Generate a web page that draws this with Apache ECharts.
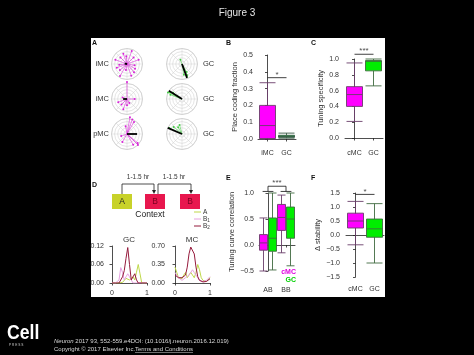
<!DOCTYPE html>
<html><head><meta charset="utf-8">
<script src="https://cdn.jsdelivr.net/npm/echarts@6/dist/echarts.min.js"></script>
<style>html,body{margin:0;padding:0;background:#000;}#c{width:474px;height:355px;}</style>
</head><body><div id="c"></div>
<script>
// ---------- DATA ----------
const polarLeftLabels = ['iMC', 'iMC', 'pMC'];
const polarRightLabels = ['GC', 'GC', 'GC'];
// each vector: angle (deg, 0 = right, counter-clockwise), length (fraction of outer ring)
const polar1Angles = [20, 45, 70, 95, 110, 135, 160, 185, 200, 220, 240, 260, 290, 310, 330, 350];
const polar1Lengths = [0.8, 0.6, 0.9, 0.5, 0.7, 0.6, 0.8, 0.5, 0.7, 0.6, 0.9, 0.4, 0.8, 0.7, 0.6, 0.5];
const polar1Mean = [0.15, 170];
const polar2Angles = [90, 160, 200, 225, 250, 270, 300, 0];
const polar2Lengths = [1.1, 0.3, 0.6, 0.5, 0.7, 0.4, 0.3, 0.5];
const polar2Mean = [0.25, 180];
const polar3Angles = [60, 70, 80, 100, 200, 240, 300, 315, 320];
const polar3Lengths = [0.9, 1.0, 1.1, 0.5, 0.4, 0.6, 0.8, 1.0, 0.9];
const polar3Mean = [0.65, 0];
const polar4Angles = [280, 290, 300, 295, 110];
const polar4Lengths = [0.7, 0.9, 0.6, 0.8, 0.3];
const polar4Mean = [0.95, 290];
const polar5Angles = [145, 150, 155, 160];
const polar5Lengths = [0.7, 0.9, 1.0, 0.8];
const polar5Mean = [1.0, 148];
const polar6Angles = [105, 120, 140, 155];
const polar6Lengths = [0.6, 0.5, 0.7, 0.9];
const polar6Mean = [1.0, 157];

const catsB = ['iMC', 'GC'];
const boxB_iMC = [0.0, 0.003, 0.08, 0.2, 0.335];
const boxB_GC = [0.005, 0.01, 0.015, 0.022, 0.035];
const sigB = ['*', 0.365];

const catsC = ['cMC', 'GC'];
const boxC_cMC = [0.21, 0.40, 0.55, 0.65, 0.95];
const boxC_GC = [0.66, 0.85, 0.97, 0.98, 1.0];
const sigC = ['***', 1.06];

const catsE = ['AB', 'BB'];
const groupsE = ['cMC', 'GC'];
const boxE_cMC = [[-0.5, -0.1, 0.04, 0.2, 0.52], [-0.15, 0.28, 0.53, 0.78, 0.96]];
const boxE_GC = [[-0.48, -0.12, 0.13, 0.52, 1.0], [-0.4, 0.13, 0.5, 0.73, 1.0]];
const sigE = ['***', 1.13, 1.03];

const catsF = ['cMC', 'GC'];
const boxF_cMC = [-0.35, 0.25, 0.5, 0.78, 1.2];
const boxF_GC = [-1.0, -0.08, 0.22, 0.57, 1.12];
const sigF = ['*', 1.45];

const traceX = [0, 0.05, 0.1, 0.15, 0.2, 0.25, 0.3, 0.35, 0.4, 0.45, 0.5, 0.55, 0.6, 0.65, 0.7, 0.75, 0.8, 0.85, 0.9, 0.95, 1.0];
const gcA  = [0, 0, 0, 0, 0, 0, 0.002, 0.005, 0.015, 0.02, 0.01, 0.015, 0.02, 0.01, 0.035, 0.06, 0.03, 0, 0, 0, 0];
const gcB1 = [0, 0, 0, 0, 0.01, 0.05, 0.035, 0.01, 0.02, 0.03, 0.02, 0.01, 0, 0, 0, 0, 0, 0, 0, 0, 0];
const gcB2 = [0, 0, 0, 0, 0, 0.005, 0.02, 0.04, 0.08, 0.115, 0.06, 0.01, 0.005, 0.03, 0.01, 0, 0, 0, 0, 0, 0];
const mcA  = [0.3, 0.2, 0.1, 0.12, 0.08, 0.15, 0.2, 0.1, 0.15, 0.2, 0.15, 0.1, 0.2, 0.35, 0.25, 0.1, 0.05, 0.05, 0.03, 0.05, 0.1];
const mcB1 = [0.2, 0.15, 0.1, 0.1, 0.05, 0.08, 0.1, 0.12, 0.15, 0.2, 0.25, 0.2, 0.15, 0.1, 0.05, 0.05, 0.03, 0.05, 0.05, 0.08, 0.12];
const mcB2 = [0.15, 0.12, 0.1, 0.08, 0.1, 0.08, 0.15, 0.3, 0.55, 0.68, 0.7, 0.55, 0.3, 0.12, 0.05, 0.03, 0.02, 0.02, 0.03, 0.05, 0.08];
const gcTicks = [0, 0.06, 0.12];
const mcTicks = [0, 0.35, 0.70];

// ---------- STYLE ----------
const FONT = 'Liberation Sans, Arial, sans-serif';
const MAG = '#ff00ff', GRN = '#00ee00';
const colA = '#bfd84a', colB1 = '#e6a2e0', colB2 = '#951a3c';
const TXT = '#333';
const MAGB = '#6a3d6a', GRNB = '#3f6a3f';

const chart = echarts.init(document.getElementById('c'), null, {width: 474, height: 355});

// ---------- POLAR ----------
const polarCenters = [[127, 64], [127, 99], [127, 134], [182, 64], [182, 99], [182, 134]];
const polarSets = [
  [polar1Angles, polar1Lengths, polar1Mean, '#d822d8'],
  [polar2Angles, polar2Lengths, polar2Mean, '#d822d8'],
  [polar3Angles, polar3Lengths, polar3Mean, '#d822d8'],
  [polar4Angles, polar4Lengths, polar4Mean, '#44cc44'],
  [polar5Angles, polar5Lengths, polar5Mean, '#44cc44'],
  [polar6Angles, polar6Lengths, polar6Mean, '#44cc44']
];
const polar = [], angleAxis = [], radiusAxis = [], series = [];
polarSets.forEach((s, i) => {
  polar.push({center: polarCenters[i], radius: 15.5});
  angleAxis.push({polarIndex: i, type: 'value', min: 0, max: 360, interval: 45, startAngle: 0, clockwise: false,
    axisLine: {show: true, lineStyle: {color: '#c8c8c8', width: 0.6}}, axisTick: {show: false}, axisLabel: {show: false},
    splitLine: {show: true, lineStyle: {color: '#d0d0d0', width: 0.5}}});
  radiusAxis.push({polarIndex: i, type: 'value', min: 0, max: 1, interval: 0.2,
    axisLine: {show: false}, axisTick: {show: false}, axisLabel: {show: false},
    splitLine: {show: true, lineStyle: {color: '#c8c8c8', width: 0.5}}});
  const vecData = s[0].map((a, k) => [s[1][k], a]);
  series.push({type: 'custom', coordinateSystem: 'polar', polarIndex: i, data: vecData, silent: true,
    renderItem: (p, api) => {
      const r = api.value(0), a = api.value(1);
      const p0 = api.coord([0, a]), p1 = api.coord([r, a]);
      return {type: 'group', children: [
        {type: 'line', shape: {x1: p0[0], y1: p0[1], x2: p1[0], y2: p1[1]}, style: {stroke: s[3], lineWidth: 0.7, opacity: 0.8}},
        {type: 'circle', shape: {cx: p1[0], cy: p1[1], r: 1}, style: {fill: s[3]}}
      ]};
    }});
  series.push({type: 'custom', coordinateSystem: 'polar', polarIndex: i, data: [s[2]], silent: true, z: 5,
    renderItem: (p, api) => {
      const r = api.value(0), a = api.value(1);
      const p0 = api.coord([0, a]), p1 = api.coord([r, a]);
      return {type: 'line', shape: {x1: p0[0], y1: p0[1], x2: p1[0], y2: p1[1]}, style: {stroke: '#000', lineWidth: 1.8}};
    }});
});

// ---------- CARTESIAN ----------
const grid = [
  {left: 258, top: 55, width: 38, height: 84},   // B
  {left: 345, top: 59, width: 38, height: 79},   // C
  {left: 259, top: 193, width: 36, height: 78},  // E
  {left: 346, top: 193, width: 38, height: 84},  // F
  {left: 112, top: 246, width: 35, height: 37},  // D GC
  {left: 175, top: 246, width: 35, height: 37}   // D MC
];
const axLine = {show: true, lineStyle: {color: '#222', width: 0.8}};
const axTick = {show: true, length: 2.5, lineStyle: {color: '#222', width: 0.8}};
const lbl = (fmt) => ({fontSize: 7, color: TXT, fontFamily: FONT, margin: 3, formatter: fmt});
const fmtN = (d) => (v) => (v < 0 ? '\u2212' : '') + Math.abs(v).toFixed(d);

function catX(g, cats, off) {
  return {gridIndex: g, type: 'category', data: cats, offset: off, axisLine: axLine,
    axisTick: {...axTick, alignWithLabel: true}, axisLabel: lbl(), splitLine: {show: false}};
}
function hidX(g) { return {gridIndex: g, type: 'value', min: -0.5, max: 1.5, show: false}; }
function valY(g, min, max, interval, off, d, name, gap) {
  return {gridIndex: g, type: 'value', min, max, interval, offset: off, axisLine: axLine, axisTick: axTick,
    axisLabel: lbl(fmtN(d)), splitLine: {show: false},
    name: name || '', nameLocation: 'middle', nameGap: gap || 0, nameRotate: 90,
    nameTextStyle: {fontSize: 7.5, color: TXT, fontFamily: FONT}};
}
// sub-categories of panel E: (context pair, cell group)
const subCatsE = [];
catsE.forEach(c => groupsE.forEach(g => subCatsE.push(c + ' ' + g)));
const xAxis = [
  catX(0, catsB, 8), catX(1, catsC, 9), catX(2, catsE, 13), catX(3, catsF, 6),
  hidX(0), hidX(1), hidX(2), hidX(3),
  {gridIndex: 4, type: 'value', min: 0, max: 1, interval: 1, offset: 4, axisLine: axLine, axisTick: axTick, axisLabel: lbl(fmtN(0)), splitLine: {show: false}},
  {gridIndex: 5, type: 'value', min: 0, max: 1, interval: 1, offset: 4, axisLine: axLine, axisTick: axTick, axisLabel: lbl(fmtN(0)), splitLine: {show: false}},
  {gridIndex: 2, type: 'category', data: subCatsE, show: false}
];
const yAxis = [
  valY(0, 0, 0.5, 0.1, 2, 1, 'Place coding fraction', 16),
  valY(1, 0, 1, 0.2, 3, 1, 'Tuning specificity', 16),
  valY(2, -0.5, 1, 0.5, 2, 1, 'Tuning curve correlation', 19),
  valY(3, -1.5, 1.5, 0.5, 3, 1, '\u0394 stability', 19),
  valY(4, gcTicks[0], gcTicks[2], gcTicks[1], 5, 2),
  valY(5, mcTicks[0], mcTicks[2], mcTicks[1], 7, 2)
];

const item = (v, fill, border) => ({value: v, itemStyle: {color: fill, borderColor: border, borderWidth: 0.9}});
function box(xi, yi, data, w) {
  return {type: 'boxplot', xAxisIndex: xi, yAxisIndex: yi, data, boxWidth: [w, w], silent: true};
}
series.push(box(0, 0, [item(boxB_iMC, MAG, MAGB), item(boxB_GC, '#1fb84a', '#3a5a46')], 16));
series.push(box(1, 1, [item(boxC_cMC, MAG, MAGB), item(boxC_GC, GRN, GRNB)], 16));
const dataE = [];
catsE.forEach((c, k) => { dataE.push(item(boxE_cMC[k], MAG, MAGB)); dataE.push(item(boxE_GC[k], GRN, GRNB)); });
series.push(box(10, 2, dataE, 8));
series.push(box(3, 3, [item(boxF_cMC, MAG, MAGB), item(boxF_GC, GRN, GRNB)], 16));

function sigLine(xi, yi, pts) {
  return {type: 'line', xAxisIndex: xi, yAxisIndex: yi, data: pts, symbol: 'none', clip: false, silent: true,
    lineStyle: {color: '#111', width: 0.8}};
}
function sigStar(xi, yi, txt, y) {
  return {type: 'scatter', xAxisIndex: xi, yAxisIndex: yi, data: [[0.5, y]], symbolSize: 0, clip: false, silent: true,
    label: {show: true, position: 'top', distance: -1, formatter: txt, fontSize: 8, color: '#111', fontFamily: FONT}};
}
series.push(sigLine(4, 0, [[0, sigB[1]], [1, sigB[1]]]), sigStar(4, 0, sigB[0], sigB[1]));
series.push(sigLine(5, 1, [[0, sigC[1]], [1, sigC[1]]]), sigStar(5, 1, sigC[0], sigC[1]));
series.push(sigLine(6, 2, [[0, sigE[2]], [0, sigE[1]], [1, sigE[1]], [1, sigE[2]]]), sigStar(6, 2, sigE[0], sigE[1]));
series.push(sigLine(6, 2, [[-0.3, sigE[2]], [0.3, sigE[2]]]), sigLine(6, 2, [[0.7, sigE[2]], [1.3, sigE[2]]]));
series.push(sigLine(7, 3, [[0, sigF[1]], [1, sigF[1]]]), sigStar(7, 3, sigF[0], sigF[1]));

function trace(xi, yi, vals, col) {
  return {type: 'line', xAxisIndex: xi, yAxisIndex: yi, data: traceX.map((x, k) => [x, vals[k]]),
    symbol: 'none', silent: true, lineStyle: {color: col, width: 1}};
}
series.push(trace(8, 4, gcA, colA), trace(8, 4, gcB1, colB1), trace(8, 4, gcB2, colB2));
series.push(trace(9, 5, mcA, colA), trace(9, 5, mcB1, colB1), trace(9, 5, mcB2, colB2));

// ---------- GRAPHIC (labels, diagram, frame) ----------
const T = (x, y, text, o, extra) => Object.assign({type: 'text', x, y, style: Object.assign({text, fill: TXT, fontSize: 8, fontFamily: FONT, align: 'left', verticalAlign: 'middle'}, o || {})}, extra || {});
const FT = '#d8d8d8';
const graphic = [
  {type: 'rect', shape: {x: 91, y: 38, width: 294, height: 259}, style: {fill: '#fff'}, z: -10},
  T(237, 13, 'Figure 3', {fill: '#e6e6e6', fontSize: 10, align: 'center'}),
  T(92, 43, 'A', {fontWeight: 'bold', fontSize: 7, fill: '#111'}),
  T(226, 43, 'B', {fontWeight: 'bold', fontSize: 7, fill: '#111'}),
  T(311, 43, 'C', {fontWeight: 'bold', fontSize: 7, fill: '#111'}),
  T(92, 185, 'D', {fontWeight: 'bold', fontSize: 7, fill: '#111'}),
  T(226, 178, 'E', {fontWeight: 'bold', fontSize: 7, fill: '#111'}),
  T(311, 178, 'F', {fontWeight: 'bold', fontSize: 7, fill: '#111'}),
  // diagram
  {type: 'rect', shape: {x: 112, y: 194, width: 20, height: 15}, style: {fill: '#c8d22a'}},
  {type: 'rect', shape: {x: 145, y: 194, width: 20, height: 15}, style: {fill: '#e8174e'}},
  {type: 'rect', shape: {x: 180, y: 194, width: 20, height: 15}, style: {fill: '#e8174e'}},
  T(122, 202, 'A', {align: 'center', fontSize: 8.5, fill: '#222'}),
  T(155, 202, 'B', {align: 'center', fontSize: 8.5, fill: '#7a0020'}),
  T(190, 202, 'B', {align: 'center', fontSize: 8.5, fill: '#7a0020'}),
  {type: 'polyline', shape: {points: [[122, 194], [122, 184], [154, 184], [154, 191]]}, style: {stroke: '#222', lineWidth: 0.8, fill: null}},
  {type: 'polygon', shape: {points: [[152, 190], [156, 190], [154, 194]]}, style: {fill: '#222'}},
  {type: 'polyline', shape: {points: [[158, 194], [158, 184], [191, 184], [191, 191]]}, style: {stroke: '#222', lineWidth: 0.8, fill: null}},
  {type: 'polygon', shape: {points: [[189, 190], [193, 190], [191, 194]]}, style: {fill: '#222'}},
  T(138, 177, '1-1.5 hr', {align: 'center', fontSize: 6.5}),
  T(174, 177, '1-1.5 hr', {align: 'center', fontSize: 6.5}),
  T(150, 215, 'Context', {align: 'center', fontSize: 8.5, fill: '#222'}),
  {type: 'line', shape: {x1: 194, y1: 212, x2: 201, y2: 212}, style: {stroke: colA, lineWidth: 1}},
  {type: 'line', shape: {x1: 194, y1: 219, x2: 201, y2: 219}, style: {stroke: colB1, lineWidth: 1}},
  {type: 'line', shape: {x1: 194, y1: 226, x2: 201, y2: 226}, style: {stroke: colB2, lineWidth: 1}},
  T(203, 212, 'A', {fontSize: 6.5}),
  {type: 'text', x: 203, y: 219, style: {text: '{a|B}{s|1}', verticalAlign: 'middle', rich: {a: {fontSize: 6.5, fill: TXT, fontFamily: FONT}, s: {fontSize: 4.5, fill: TXT, fontFamily: FONT, verticalAlign: 'bottom', padding: [4, 0, 0, 0]}}}},
  {type: 'text', x: 203, y: 226, style: {text: '{a|B}{s|2}', verticalAlign: 'middle', rich: {a: {fontSize: 6.5, fill: TXT, fontFamily: FONT}, s: {fontSize: 4.5, fill: TXT, fontFamily: FONT, verticalAlign: 'bottom', padding: [4, 0, 0, 0]}}}},
  T(129, 240, 'GC', {align: 'center', fontSize: 8}),
  T(192, 240, 'MC', {align: 'center', fontSize: 8}),
  // legend E
  T(296, 272, 'cMC', {align: 'right', fontSize: 7, fontWeight: 'bold', fill: '#e000e0'}),
  T(296, 280, 'GC', {align: 'right', fontSize: 7, fontWeight: 'bold', fill: '#00d000'}),
  // footer
  T(0, 0, 'Cell', {fontSize: 21, fontWeight: 'bold', fill: '#fff'}, {x: 7, y: 333, scaleX: 0.84}),
  T(9, 345, 'P R E S S', {fontSize: 3.2, fill: '#ccc'}),
  {type: 'text', x: 54, y: 341, style: {text: '{i|Neuron} 2017 93, 552-559.e4DOI: (10.1016/j.neuron.2016.12.019)', verticalAlign: 'middle',
    rich: {i: {fontStyle: 'italic', fontSize: 6, fill: FT, fontFamily: FONT}}, fontSize: 6, fill: FT, fontFamily: FONT}},
  T(54, 349, 'Copyright \u00a9 2017 Elsevier Inc.', {fontSize: 6, fill: FT}),
  T(135, 349, 'Terms and Conditions', {fontSize: 6, fill: FT}),
  {type: 'line', shape: {x1: 135, y1: 352.5, x2: 193, y2: 352.5}, style: {stroke: '#bbb', lineWidth: 0.6}}
];
polarLeftLabels.forEach((t, i) => graphic.push(T(109, polarCenters[i][1], t, {align: 'right', fontSize: 7.5})));
polarRightLabels.forEach((t, i) => graphic.push(T(203, polarCenters[i + 3][1], t, {align: 'left', fontSize: 7.5})));

chart.setOption({
  backgroundColor: '#000', animation: false,
  textStyle: {fontFamily: FONT},
  grid, xAxis, yAxis, polar, angleAxis, radiusAxis, series, graphic
});
</script></body></html>
